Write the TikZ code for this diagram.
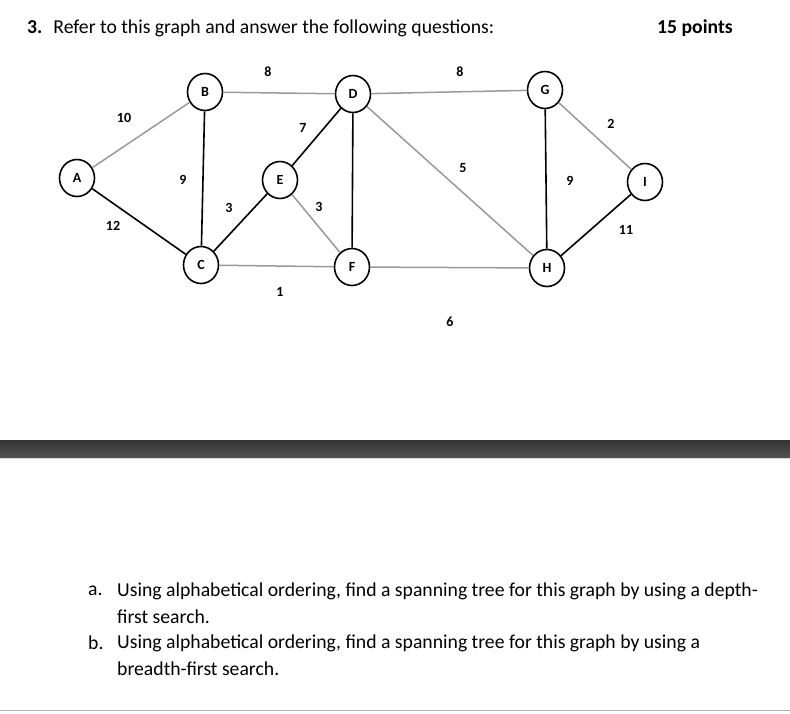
\documentclass[tikz,border=0pt]{standalone}
\usepackage{fontspec}
\setmainfont{Carlito}
\usetikzlibrary{shapes.geometric}
\begin{document}
\begin{tikzpicture}[x=1pt,y=-1pt,
 vtx/.style={draw,line width=1.6pt,ellipse,minimum width=35pt,minimum height=37pt,inner sep=0pt,font=\fontsize{14}{14}\selectfont\bfseries},
 ge/.style={draw=gray!80,line width=1.5pt},
 be/.style={draw=black,line width=1.6pt},
 wl/.style={font=\fontsize{14}{14}\selectfont\bfseries},
 txt/.style={font=\fontsize{19.7}{23}\selectfont,anchor=west,inner sep=0pt}]
\useasboundingbox (0,0) rectangle (790,713);
\node[vtx] (A) at (77,178) {A};
\node[vtx] (B) at (205,92) {B};
\node[vtx] (C) at (201,265) {C};
\node[vtx] (D) at (353,94) {D};
\node[vtx] (E) at (280,180) {E};
\node[vtx] (F) at (352,267) {F};
\node[vtx] (G) at (545,90) {G};
\node[vtx] (H) at (547,268) {H};
\node[vtx] (I) at (645,182) {I};
\draw[ge] (A)--(B); \draw[ge] (B)--(D); \draw[ge] (D)--(G); \draw[ge] (G)--(I);
\draw[ge] (E)--(F); \draw[ge] (D)--(H); \draw[ge] (C)--(F); \draw[ge] (F)--(H);
\draw[be] (A)--(C); \draw[be] (B)--(C); \draw[be] (C)--(E); \draw[be] (E)--(D);
\draw[be] (D)--(F); \draw[be] (G)--(H); \draw[be] (H)--(I);
\node[wl] (l1) at (268,72) {8};
\node[wl] (l2) at (460,72) {8};
\node[wl] (l3) at (124,118) {10};
\node[wl] (l4) at (303,128) {7};
\node[wl] (l5) at (611,124) {2};
\node[wl] (l6) at (183,180) {9};
\node[wl] (l7) at (463,168) {5};
\node[wl] (l8) at (570,181) {9};
\node[wl] (l9) at (229,208) {3};
\node[wl] (l10) at (319,207) {3};
\node[wl] (l11) at (113,226) {12};
\node[wl] (l12) at (626,230) {11};
\node[wl] (l13) at (280,292) {1};
\node[wl] (l14) at (450,322) {6};
\node[txt] (t1) at (27,28) {\textbf{3.}\hspace{11pt}Refer to this graph and answer the following questions:};
\node[txt] (t2) at (657,28) {\textbf{15 points}};
\fill[top color=black!80,bottom color=black!68] (0,440) rectangle (790,457);
\draw[gray!30,line width=1pt] (0,458) -- (790,458);
\node[txt] (a) at (88,591) {a.};
\node[txt] (a1) at (117,591) {Using alphabetical ordering, find a spanning tree for this graph by using a depth-};
\node[txt] (a2) at (117,617) {first search.};
\node[txt] (b) at (88,643) {b.};
\node[txt] (b1) at (117,643) {Using alphabetical ordering, find a spanning tree for this graph by using a};
\node[txt] (b2) at (117,669) {breadth-first search.};
\draw[gray!60,line width=1pt] (0,710) -- (790,710);
\end{tikzpicture}
\end{document}
